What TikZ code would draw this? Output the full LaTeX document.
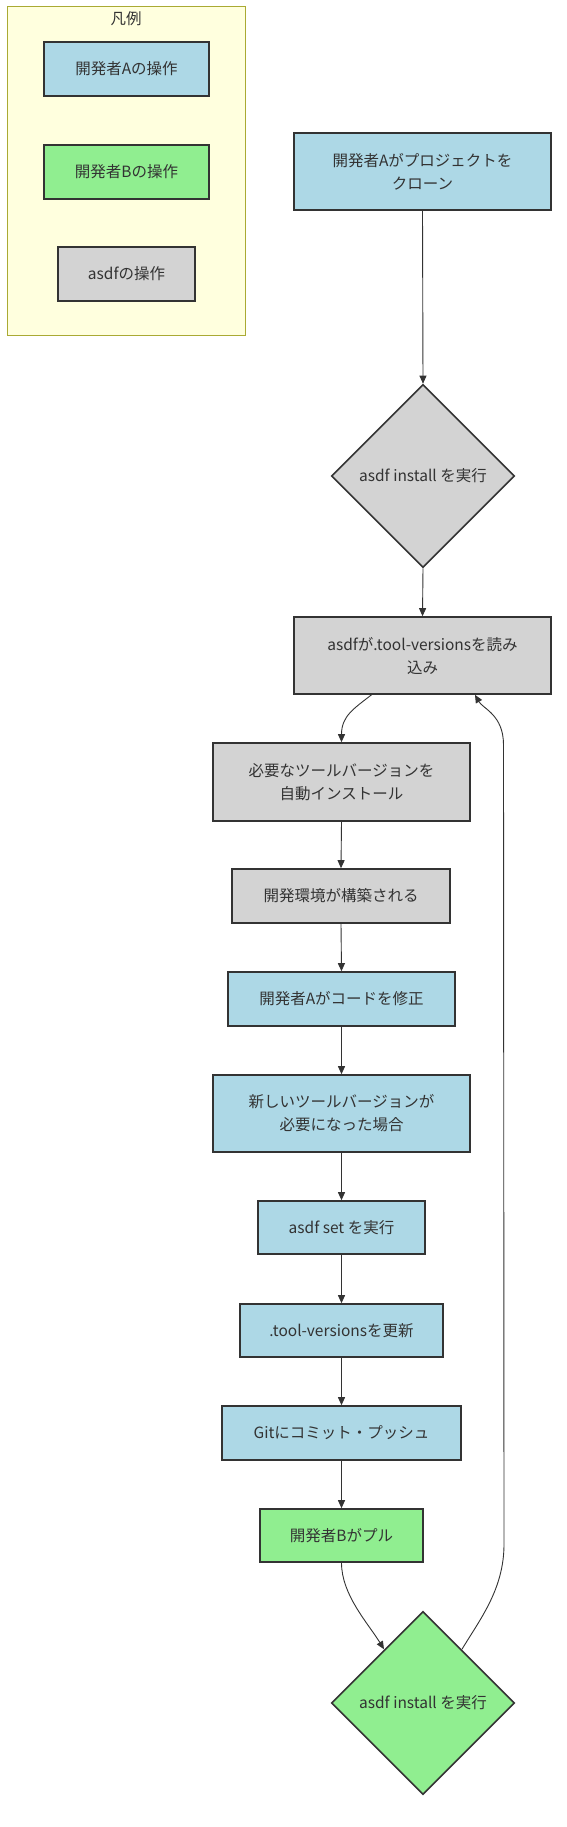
\documentclass[tikz,border=0pt]{standalone}
\usepackage{fontspec}
\setmainfont{Noto Sans CJK JP}
\usetikzlibrary{shapes.geometric,arrows.meta}
\definecolor{ink}{HTML}{333333}
\definecolor{devA}{HTML}{ADD8E6}
\definecolor{devB}{HTML}{90EE90}
\definecolor{tool}{HTML}{D3D3D3}
\definecolor{legfill}{HTML}{FFFFDE}
\definecolor{legline}{HTML}{AAAA33}
\begin{document}
\begin{tikzpicture}[x=1pt,y=-1pt,
  every node/.style={text=ink, font=\fontsize{15.5}{23}\selectfont},
  box/.style={draw=ink, line width=1.6pt, rectangle, align=center, inner sep=0pt},
  dia/.style={draw=ink, line width=1.6pt, shape=diamond, aspect=1, inner sep=0pt,
    minimum width=183pt, minimum height=183pt},
  conn/.style={draw=ink, line width=0.9pt, -{Triangle[length=8pt,width=7pt]}},
  legendbox/.style={draw=legline, fill=legfill, line width=1pt, rectangle, inner sep=0pt}
]
\useasboundingbox (0,0) rectangle (567,1827);

% legend
\node[legendbox, minimum width=238pt, minimum height=328pt] (legend) at (126,171) {};
\node (legtitle) at (126,19) {凡例};
\node[box, fill=devA, minimum width=165pt, minimum height=54pt] (LA) at (126.5,69) {開発者Aの操作};
\node[box, fill=devB, minimum width=165pt, minimum height=54pt] (LB) at (126.5,172) {開発者Bの操作};
\node[box, fill=tool, minimum width=137pt, minimum height=54pt] (LC) at (126.5,274) {asdfの操作};

% main flow
\node[box, fill=devA, minimum width=257pt, minimum height=77pt] (A1) at (422.5,171.5) {開発者Aがプロジェクトを\\クローン};
\node[dia, fill=tool] (D1) at (423,476) {asdf install を実行};
\node[box, fill=tool, minimum width=257pt, minimum height=77pt] (R1) at (422.5,655.5) {asdfが.tool-versionsを読み\\込み};
\node[box, fill=tool, minimum width=257pt, minimum height=78pt] (R2) at (341.5,782) {必要なツールバージョンを\\自動インストール};
\node[box, fill=tool, minimum width=218pt, minimum height=54pt] (R3) at (341,896) {開発環境が構築される};
\node[box, fill=devA, minimum width=227pt, minimum height=54pt] (R4) at (341.5,999) {開発者Aがコードを修正};
\node[box, fill=devA, minimum width=257pt, minimum height=77pt] (R5) at (341.5,1113.5) {新しいツールバージョンが\\必要になった場合};
\node[box, fill=devA, minimum width=167pt, minimum height=53pt] (R6) at (341.5,1227.5) {asdf set を実行};
\node[box, fill=devA, minimum width=203pt, minimum height=53pt] (R7) at (341.5,1330.5) {.tool-versionsを更新};
\node[box, fill=devA, minimum width=239pt, minimum height=54pt] (R8) at (341.5,1433) {Gitにコミット・プッシュ};
\node[box, fill=devB, minimum width=163pt, minimum height=53pt] (R9) at (341.5,1535.5) {開発者Bがプル};
\node[dia, fill=devB] (D2) at (423,1703) {asdf install を実行};

% connectors
\draw[conn] (A1.south) -- (D1.north);
\draw[conn] (D1.south) -- (R1.north);
\draw[conn] ([xshift=-51pt]R1.south) .. controls +(-18,14) and +(0,-26) .. (R2.north);
\draw[conn] (R2.south) -- (R3.north);
\draw[conn] (R3.south) -- (R4.north);
\draw[conn] (R4.south) -- (R5.north);
\draw[conn] (R5.south) -- (R6.north);
\draw[conn] (R6.south) -- (R7.north);
\draw[conn] (R7.south) -- (R8.north);
\draw[conn] (R8.south) -- (R9.north);
\draw[conn] (R9.south) .. controls +(0,32) and +(-16,-26) .. ([xshift=-39pt,yshift=-38.5pt]D2.north);
\draw[conn] ([xshift=39pt,yshift=-38.5pt]D2.north) .. controls +(18,-30) and +(0,45) .. +(42,-105)
  -- ([xshift=81pt,yshift=-50pt]R1.south) .. controls +(0,-30) and +(8,14) .. ([xshift=52.5pt]R1.south);
\end{tikzpicture}
\end{document}
